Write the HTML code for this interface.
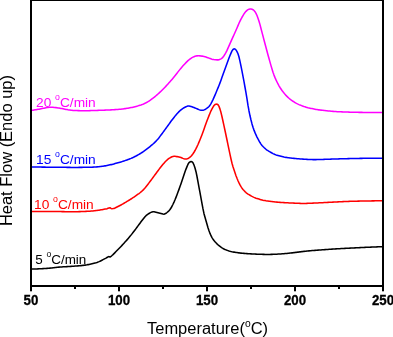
<!DOCTYPE html>
<html><head><meta charset="utf-8"><title>DSC curves</title>
<style>
html,body{margin:0;padding:0;background:#fff;}
body{width:393px;height:337px;overflow:hidden;}
svg{display:block;font-family:"Liberation Sans",Arial,Helvetica,sans-serif;}
</style></head><body>
<svg width="393" height="337" viewBox="0 0 393 337">
<rect x="0" y="0" width="393" height="337" fill="#fff"/>
<path d="M31.0 110.50 L32.0 110.34 L33.0 110.18 L34.0 110.01 L35.0 109.84 L36.0 109.67 L37.0 109.49 L38.0 109.32 L39.0 109.14 L40.0 108.95 L41.0 108.75 L42.0 108.55 L43.0 108.34 L44.0 108.14 L45.0 107.94 L46.0 107.75 L47.0 107.58 L48.0 107.45 L49.0 107.35 L50.0 107.28 L51.0 107.26 L52.0 107.28 L53.0 107.34 L54.0 107.42 L55.0 107.51 L56.0 107.63 L57.0 107.76 L58.0 107.90 L59.0 108.05 L60.0 108.22 L61.0 108.39 L62.0 108.58 L63.0 108.78 L64.0 109.00 L65.0 109.21 L66.0 109.42 L67.0 109.61 L68.0 109.79 L69.0 109.94 L70.0 110.08 L71.0 110.20 L72.0 110.31 L73.0 110.40 L74.0 110.47 L75.0 110.53 L76.0 110.58 L77.0 110.60 L78.0 110.62 L79.0 110.64 L80.0 110.66 L81.0 110.67 L82.0 110.68 L83.0 110.69 L84.0 110.69 L85.0 110.69 L86.0 110.69 L87.0 110.68 L88.0 110.67 L89.0 110.65 L90.0 110.63 L91.0 110.60 L92.0 110.57 L93.0 110.54 L94.0 110.51 L95.0 110.47 L96.0 110.44 L97.0 110.41 L98.0 110.37 L99.0 110.34 L100.0 110.30 L101.0 110.26 L102.0 110.23 L103.0 110.19 L104.0 110.15 L105.0 110.11 L106.0 110.07 L107.0 110.03 L108.0 109.99 L109.0 109.95 L110.0 109.91 L111.0 109.86 L112.0 109.81 L113.0 109.76 L114.0 109.70 L115.0 109.63 L116.0 109.56 L117.0 109.48 L118.0 109.40 L119.0 109.32 L120.0 109.23 L121.0 109.15 L122.0 109.04 L123.0 108.92 L124.0 108.79 L125.0 108.64 L126.0 108.48 L127.0 108.32 L128.0 108.15 L129.0 107.97 L130.0 107.79 L131.0 107.61 L132.0 107.41 L133.0 107.19 L134.0 106.95 L135.0 106.70 L136.0 106.44 L137.0 106.16 L138.0 105.87 L139.0 105.57 L140.0 105.26 L141.0 104.94 L142.0 104.58 L143.0 104.19 L144.0 103.76 L145.0 103.29 L146.0 102.78 L147.0 102.24 L148.0 101.66 L149.0 101.04 L150.0 100.39 L151.0 99.70 L152.0 98.98 L153.0 98.23 L154.0 97.44 L155.0 96.61 L156.0 95.76 L157.0 94.88 L158.0 93.99 L159.0 93.08 L160.0 92.15 L161.0 91.20 L162.0 90.23 L163.0 89.23 L164.0 88.22 L165.0 87.17 L166.0 86.11 L167.0 85.04 L168.0 83.95 L169.0 82.84 L170.0 81.71 L171.0 80.57 L172.0 79.41 L173.0 78.22 L174.0 77.00 L175.0 75.74 L176.0 74.46 L177.0 73.18 L178.0 71.89 L179.0 70.61 L180.0 69.36 L181.0 68.14 L182.0 66.96 L183.0 65.83 L184.0 64.73 L185.0 63.66 L186.0 62.62 L187.0 61.60 L188.0 60.64 L189.0 59.78 L190.0 59.00 L191.0 58.30 L192.0 57.69 L193.0 57.15 L194.0 56.69 L195.0 56.33 L196.0 56.05 L197.0 55.87 L198.0 55.78 L199.0 55.80 L200.0 55.88 L201.0 55.99 L202.0 56.13 L203.0 56.31 L204.0 56.52 L205.0 56.77 L206.0 57.07 L207.0 57.41 L208.0 57.76 L209.0 58.13 L210.0 58.49 L211.0 58.84 L212.0 59.14 L213.0 59.40 L214.0 59.59 L215.0 59.73 L216.0 59.83 L217.0 59.89 L218.0 59.87 L219.0 59.65 L220.0 59.30 L221.0 58.86 L222.0 58.17 L223.0 57.13 L224.0 55.76 L225.0 54.19 L226.0 52.39 L227.0 50.34 L228.0 48.11 L229.0 45.86 L230.0 43.61 L231.0 41.37 L232.0 39.15 L233.0 36.93 L234.0 34.71 L235.0 32.49 L236.0 30.25 L237.0 27.95 L238.0 25.62 L239.0 23.31 L240.0 21.09 L241.0 19.09 L242.0 17.26 L243.0 15.54 L244.0 13.90 L245.0 12.50 L246.0 11.33 L247.0 10.37 L248.0 9.65 L249.0 9.23 L250.0 9.04 L251.0 9.01 L252.0 9.23 L253.0 9.72 L254.0 10.51 L255.0 11.66 L256.0 13.32 L257.0 15.53 L258.0 18.22 L259.0 21.22 L260.0 24.65 L261.0 28.47 L262.0 32.33 L263.0 36.18 L264.0 39.97 L265.0 43.75 L266.0 47.52 L267.0 51.27 L268.0 54.94 L269.0 58.53 L270.0 62.10 L271.0 65.62 L272.0 69.00 L273.0 72.19 L274.0 75.10 L275.0 77.64 L276.0 79.91 L277.0 82.00 L278.0 83.98 L279.0 85.84 L280.0 87.50 L281.0 89.01 L282.0 90.45 L283.0 91.82 L284.0 93.10 L285.0 94.28 L286.0 95.37 L287.0 96.40 L288.0 97.38 L289.0 98.28 L290.0 99.12 L291.0 99.87 L292.0 100.58 L293.0 101.27 L294.0 101.92 L295.0 102.54 L296.0 103.13 L297.0 103.67 L298.0 104.16 L299.0 104.60 L300.0 105.01 L301.0 105.40 L302.0 105.79 L303.0 106.15 L304.0 106.51 L305.0 106.84 L306.0 107.15 L307.0 107.44 L308.0 107.71 L309.0 107.95 L310.0 108.18 L311.0 108.40 L312.0 108.61 L313.0 108.82 L314.0 109.03 L315.0 109.22 L316.0 109.40 L317.0 109.57 L318.0 109.73 L319.0 109.87 L320.0 110.00 L321.0 110.12 L322.0 110.24 L323.0 110.35 L324.0 110.47 L325.0 110.58 L326.0 110.69 L327.0 110.80 L328.0 110.90 L329.0 111.00 L330.0 111.10 L331.0 111.19 L332.0 111.28 L333.0 111.37 L334.0 111.45 L335.0 111.52 L336.0 111.59 L337.0 111.65 L338.0 111.71 L339.0 111.76 L340.0 111.80 L341.0 111.84 L342.0 111.88 L343.0 111.92 L344.0 111.96 L345.0 111.99 L346.0 112.03 L347.0 112.06 L348.0 112.09 L349.0 112.13 L350.0 112.16 L351.0 112.18 L352.0 112.21 L353.0 112.24 L354.0 112.26 L355.0 112.28 L356.0 112.31 L357.0 112.32 L358.0 112.34 L359.0 112.36 L360.0 112.37 L361.0 112.38 L362.0 112.39 L363.0 112.40 L364.0 112.41 L365.0 112.42 L366.0 112.42 L367.0 112.43 L368.0 112.44 L369.0 112.44 L370.0 112.44 L371.0 112.45 L372.0 112.45 L373.0 112.45 L374.0 112.45 L375.0 112.45 L376.0 112.45 L377.0 112.44 L378.0 112.44 L379.0 112.43 L380.0 112.42 L381.0 112.41 L382.0 112.40" fill="none" stroke="#ff00ff" stroke-width="1.55" stroke-linejoin="round" stroke-linecap="butt"/>
<path d="M31.0 167.00 L32.0 167.01 L33.0 167.02 L34.0 167.03 L35.0 167.04 L36.0 167.05 L37.0 167.06 L38.0 167.07 L39.0 167.08 L40.0 167.09 L41.0 167.10 L42.0 167.11 L43.0 167.12 L44.0 167.13 L45.0 167.14 L46.0 167.15 L47.0 167.17 L48.0 167.18 L49.0 167.19 L50.0 167.20 L51.0 167.21 L52.0 167.22 L53.0 167.23 L54.0 167.24 L55.0 167.25 L56.0 167.26 L57.0 167.27 L58.0 167.28 L59.0 167.29 L60.0 167.30 L61.0 167.31 L62.0 167.32 L63.0 167.33 L64.0 167.34 L65.0 167.34 L66.0 167.35 L67.0 167.36 L68.0 167.37 L69.0 167.38 L70.0 167.39 L71.0 167.40 L72.0 167.41 L73.0 167.41 L74.0 167.42 L75.0 167.42 L76.0 167.41 L77.0 167.41 L78.0 167.40 L79.0 167.39 L80.0 167.38 L81.0 167.37 L82.0 167.36 L83.0 167.34 L84.0 167.33 L85.0 167.31 L86.0 167.29 L87.0 167.27 L88.0 167.26 L89.0 167.24 L90.0 167.22 L91.0 167.20 L92.0 167.18 L93.0 167.14 L94.0 167.09 L95.0 167.04 L96.0 166.97 L97.0 166.89 L98.0 166.80 L99.0 166.71 L100.0 166.60 L101.0 166.48 L102.0 166.35 L103.0 166.20 L104.0 166.04 L105.0 165.87 L106.0 165.68 L107.0 165.49 L108.0 165.28 L109.0 165.07 L110.0 164.85 L111.0 164.62 L112.0 164.38 L113.0 164.13 L114.0 163.88 L115.0 163.61 L116.0 163.34 L117.0 163.07 L118.0 162.79 L119.0 162.51 L120.0 162.22 L121.0 161.92 L122.0 161.62 L123.0 161.30 L124.0 160.97 L125.0 160.63 L126.0 160.29 L127.0 159.93 L128.0 159.56 L129.0 159.18 L130.0 158.80 L131.0 158.40 L132.0 157.97 L133.0 157.52 L134.0 157.04 L135.0 156.53 L136.0 156.01 L137.0 155.46 L138.0 154.89 L139.0 154.31 L140.0 153.72 L141.0 153.12 L142.0 152.49 L143.0 151.83 L144.0 151.14 L145.0 150.43 L146.0 149.70 L147.0 148.94 L148.0 148.16 L149.0 147.36 L150.0 146.55 L151.0 145.72 L152.0 144.87 L153.0 144.01 L154.0 143.11 L155.0 142.16 L156.0 141.16 L157.0 140.09 L158.0 138.94 L159.0 137.70 L160.0 136.40 L161.0 135.07 L162.0 133.73 L163.0 132.38 L164.0 131.01 L165.0 129.64 L166.0 128.25 L167.0 126.86 L168.0 125.47 L169.0 124.08 L170.0 122.69 L171.0 121.32 L172.0 119.98 L173.0 118.68 L174.0 117.40 L175.0 116.13 L176.0 114.90 L177.0 113.75 L178.0 112.67 L179.0 111.65 L180.0 110.69 L181.0 109.80 L182.0 109.03 L183.0 108.36 L184.0 107.77 L185.0 107.25 L186.0 106.76 L187.0 106.35 L188.0 106.09 L189.0 106.05 L190.0 106.26 L191.0 106.53 L192.0 106.84 L193.0 107.18 L194.0 107.55 L195.0 107.93 L196.0 108.35 L197.0 108.78 L198.0 109.20 L199.0 109.61 L200.0 109.96 L201.0 110.15 L202.0 110.21 L203.0 110.16 L204.0 109.91 L205.0 109.47 L206.0 108.89 L207.0 108.22 L208.0 107.44 L209.0 106.45 L210.0 105.19 L211.0 103.58 L212.0 101.70 L213.0 99.61 L214.0 97.36 L215.0 95.07 L216.0 92.72 L217.0 90.32 L218.0 87.91 L219.0 85.44 L220.0 82.87 L221.0 80.16 L222.0 77.36 L223.0 74.53 L224.0 71.71 L225.0 68.95 L226.0 66.21 L227.0 63.48 L228.0 60.76 L229.0 58.06 L230.0 55.52 L231.0 53.11 L232.0 50.86 L233.0 49.47 L234.0 48.86 L235.0 48.96 L236.0 49.97 L237.0 51.61 L238.0 53.77 L239.0 56.99 L240.0 61.31 L241.0 66.05 L242.0 71.16 L243.0 76.38 L244.0 81.71 L245.0 87.25 L246.0 92.99 L247.0 98.97 L248.0 105.40 L249.0 110.98 L250.0 115.79 L251.0 120.05 L252.0 123.91 L253.0 127.29 L254.0 130.12 L255.0 132.63 L256.0 134.95 L257.0 137.07 L258.0 138.98 L259.0 140.79 L260.0 142.52 L261.0 144.09 L262.0 145.44 L263.0 146.53 L264.0 147.53 L265.0 148.44 L266.0 149.27 L267.0 150.02 L268.0 150.69 L269.0 151.30 L270.0 151.89 L271.0 152.47 L272.0 153.04 L273.0 153.57 L274.0 154.07 L275.0 154.51 L276.0 154.90 L277.0 155.22 L278.0 155.53 L279.0 155.82 L280.0 156.10 L281.0 156.36 L282.0 156.60 L283.0 156.83 L284.0 157.04 L285.0 157.22 L286.0 157.39 L287.0 157.53 L288.0 157.66 L289.0 157.78 L290.0 157.91 L291.0 158.03 L292.0 158.15 L293.0 158.27 L294.0 158.38 L295.0 158.48 L296.0 158.59 L297.0 158.68 L298.0 158.77 L299.0 158.85 L300.0 158.93 L301.0 158.99 L302.0 159.06 L303.0 159.12 L304.0 159.18 L305.0 159.25 L306.0 159.31 L307.0 159.37 L308.0 159.42 L309.0 159.47 L310.0 159.52 L311.0 159.56 L312.0 159.59 L313.0 159.61 L314.0 159.62 L315.0 159.62 L316.0 159.61 L317.0 159.59 L318.0 159.57 L319.0 159.54 L320.0 159.51 L321.0 159.48 L322.0 159.45 L323.0 159.41 L324.0 159.38 L325.0 159.34 L326.0 159.30 L327.0 159.27 L328.0 159.23 L329.0 159.19 L330.0 159.16 L331.0 159.12 L332.0 159.08 L333.0 159.05 L334.0 159.02 L335.0 158.99 L336.0 158.95 L337.0 158.93 L338.0 158.90 L339.0 158.87 L340.0 158.85 L341.0 158.82 L342.0 158.80 L343.0 158.77 L344.0 158.75 L345.0 158.72 L346.0 158.69 L347.0 158.67 L348.0 158.64 L349.0 158.62 L350.0 158.60 L351.0 158.57 L352.0 158.55 L353.0 158.53 L354.0 158.51 L355.0 158.48 L356.0 158.46 L357.0 158.44 L358.0 158.42 L359.0 158.41 L360.0 158.39 L361.0 158.37 L362.0 158.36 L363.0 158.35 L364.0 158.34 L365.0 158.33 L366.0 158.32 L367.0 158.31 L368.0 158.30 L369.0 158.30 L370.0 158.29 L371.0 158.29 L372.0 158.28 L373.0 158.28 L374.0 158.28 L375.0 158.28 L376.0 158.28 L377.0 158.28 L378.0 158.28 L379.0 158.29 L380.0 158.29 L381.0 158.30 L382.0 158.30" fill="none" stroke="#0000ff" stroke-width="1.55" stroke-linejoin="round" stroke-linecap="butt"/>
<path d="M31.0 211.50 L32.0 211.50 L33.0 211.49 L34.0 211.49 L35.0 211.49 L36.0 211.48 L37.0 211.48 L38.0 211.48 L39.0 211.48 L40.0 211.48 L41.0 211.48 L42.0 211.48 L43.0 211.49 L44.0 211.49 L45.0 211.49 L46.0 211.49 L47.0 211.49 L48.0 211.50 L49.0 211.50 L50.0 211.50 L51.0 211.50 L52.0 211.51 L53.0 211.51 L54.0 211.52 L55.0 211.53 L56.0 211.54 L57.0 211.55 L58.0 211.56 L59.0 211.57 L60.0 211.58 L61.0 211.60 L62.0 211.61 L63.0 211.62 L64.0 211.63 L65.0 211.65 L66.0 211.66 L67.0 211.67 L68.0 211.68 L69.0 211.69 L70.0 211.70 L71.0 211.70 L72.0 211.71 L73.0 211.71 L74.0 211.70 L75.0 211.69 L76.0 211.68 L77.0 211.67 L78.0 211.65 L79.0 211.63 L80.0 211.61 L81.0 211.58 L82.0 211.55 L83.0 211.51 L84.0 211.48 L85.0 211.43 L86.0 211.39 L87.0 211.34 L88.0 211.28 L89.0 211.23 L90.0 211.17 L91.0 211.10 L92.0 211.02 L93.0 210.93 L94.0 210.82 L95.0 210.70 L96.0 210.57 L97.0 210.43 L98.0 210.29 L99.0 210.15 L100.0 210.00 L101.0 209.84 L102.0 209.67 L103.0 209.49 L104.0 209.30 L105.0 209.11 L106.0 208.92 L107.0 208.66 L108.0 208.30 L109.0 207.94 L110.0 207.70 L111.0 208.45 L112.0 208.69 L113.0 208.60 L114.0 208.40 L115.0 208.04 L116.0 207.55 L117.0 207.05 L118.0 206.55 L119.0 206.04 L120.0 205.52 L121.0 204.98 L122.0 204.42 L123.0 203.84 L124.0 203.25 L125.0 202.65 L126.0 202.05 L127.0 201.45 L128.0 200.84 L129.0 200.23 L130.0 199.61 L131.0 198.99 L132.0 198.35 L133.0 197.70 L134.0 197.03 L135.0 196.35 L136.0 195.66 L137.0 194.95 L138.0 194.24 L139.0 193.52 L140.0 192.75 L141.0 191.94 L142.0 191.06 L143.0 190.11 L144.0 189.09 L145.0 187.97 L146.0 186.75 L147.0 185.48 L148.0 184.19 L149.0 182.88 L150.0 181.55 L151.0 180.22 L152.0 178.87 L153.0 177.52 L154.0 176.16 L155.0 174.79 L156.0 173.42 L157.0 172.06 L158.0 170.70 L159.0 169.37 L160.0 168.07 L161.0 166.81 L162.0 165.57 L163.0 164.36 L164.0 163.17 L165.0 162.02 L166.0 160.97 L167.0 160.04 L168.0 159.21 L169.0 158.47 L170.0 157.81 L171.0 157.22 L172.0 156.75 L173.0 156.44 L174.0 156.29 L175.0 156.33 L176.0 156.45 L177.0 156.61 L178.0 156.81 L179.0 157.03 L180.0 157.28 L181.0 157.60 L182.0 157.97 L183.0 158.36 L184.0 158.72 L185.0 159.00 L186.0 159.08 L187.0 158.89 L188.0 158.48 L189.0 157.88 L190.0 157.14 L191.0 156.23 L192.0 155.11 L193.0 153.78 L194.0 152.24 L195.0 150.51 L196.0 148.66 L197.0 146.67 L198.0 144.49 L199.0 142.15 L200.0 139.75 L201.0 137.26 L202.0 134.67 L203.0 131.96 L204.0 129.15 L205.0 126.30 L206.0 123.50 L207.0 120.79 L208.0 118.18 L209.0 115.65 L210.0 113.18 L211.0 110.81 L212.0 108.80 L213.0 107.06 L214.0 105.53 L215.0 104.59 L216.0 104.18 L217.0 104.13 L218.0 104.74 L219.0 106.37 L220.0 109.11 L221.0 112.56 L222.0 116.75 L223.0 121.26 L224.0 125.82 L225.0 130.50 L226.0 135.27 L227.0 140.03 L228.0 144.80 L229.0 149.56 L230.0 154.31 L231.0 159.03 L232.0 163.29 L233.0 166.72 L234.0 169.79 L235.0 172.81 L236.0 175.66 L237.0 178.32 L238.0 180.73 L239.0 182.93 L240.0 184.93 L241.0 186.69 L242.0 188.19 L243.0 189.42 L244.0 190.55 L245.0 191.60 L246.0 192.54 L247.0 193.37 L248.0 194.09 L249.0 194.69 L250.0 195.28 L251.0 195.85 L252.0 196.40 L253.0 196.92 L254.0 197.40 L255.0 197.83 L256.0 198.21 L257.0 198.52 L258.0 198.82 L259.0 199.11 L260.0 199.40 L261.0 199.67 L262.0 199.93 L263.0 200.18 L264.0 200.40 L265.0 200.60 L266.0 200.78 L267.0 200.93 L268.0 201.07 L269.0 201.20 L270.0 201.34 L271.0 201.47 L272.0 201.60 L273.0 201.72 L274.0 201.84 L275.0 201.95 L276.0 202.05 L277.0 202.14 L278.0 202.23 L279.0 202.30 L280.0 202.37 L281.0 202.43 L282.0 202.50 L283.0 202.56 L284.0 202.62 L285.0 202.68 L286.0 202.74 L287.0 202.79 L288.0 202.85 L289.0 202.90 L290.0 202.95 L291.0 202.99 L292.0 203.04 L293.0 203.08 L294.0 203.13 L295.0 203.18 L296.0 203.23 L297.0 203.27 L298.0 203.31 L299.0 203.35 L300.0 203.38 L301.0 203.41 L302.0 203.43 L303.0 203.43 L304.0 203.43 L305.0 203.42 L306.0 203.40 L307.0 203.37 L308.0 203.34 L309.0 203.30 L310.0 203.26 L311.0 203.22 L312.0 203.18 L313.0 203.14 L314.0 203.09 L315.0 203.04 L316.0 203.00 L317.0 202.95 L318.0 202.90 L319.0 202.85 L320.0 202.80 L321.0 202.75 L322.0 202.70 L323.0 202.65 L324.0 202.60 L325.0 202.55 L326.0 202.49 L327.0 202.44 L328.0 202.39 L329.0 202.33 L330.0 202.28 L331.0 202.23 L332.0 202.17 L333.0 202.12 L334.0 202.07 L335.0 202.01 L336.0 201.96 L337.0 201.91 L338.0 201.86 L339.0 201.81 L340.0 201.76 L341.0 201.71 L342.0 201.66 L343.0 201.62 L344.0 201.57 L345.0 201.53 L346.0 201.49 L347.0 201.45 L348.0 201.42 L349.0 201.38 L350.0 201.35 L351.0 201.32 L352.0 201.29 L353.0 201.26 L354.0 201.23 L355.0 201.21 L356.0 201.18 L357.0 201.16 L358.0 201.14 L359.0 201.11 L360.0 201.09 L361.0 201.07 L362.0 201.05 L363.0 201.03 L364.0 201.01 L365.0 201.00 L366.0 200.98 L367.0 200.96 L368.0 200.94 L369.0 200.93 L370.0 200.91 L371.0 200.90 L372.0 200.89 L373.0 200.87 L374.0 200.86 L375.0 200.85 L376.0 200.84 L377.0 200.83 L378.0 200.82 L379.0 200.82 L380.0 200.81 L381.0 200.80 L382.0 200.80" fill="none" stroke="#ff0000" stroke-width="1.55" stroke-linejoin="round" stroke-linecap="butt"/>
<path d="M31.0 269.10 L32.0 269.08 L33.0 269.05 L34.0 269.02 L35.0 268.99 L36.0 268.95 L37.0 268.91 L38.0 268.87 L39.0 268.83 L40.0 268.78 L41.0 268.73 L42.0 268.67 L43.0 268.62 L44.0 268.56 L45.0 268.50 L46.0 268.43 L47.0 268.36 L48.0 268.29 L49.0 268.21 L50.0 268.13 L51.0 268.05 L52.0 267.95 L53.0 267.84 L54.0 267.72 L55.0 267.59 L56.0 267.47 L57.0 267.34 L58.0 267.23 L59.0 267.13 L60.0 267.04 L61.0 266.97 L62.0 266.90 L63.0 266.84 L64.0 266.78 L65.0 266.73 L66.0 266.67 L67.0 266.62 L68.0 266.57 L69.0 266.51 L70.0 266.45 L71.0 266.38 L72.0 266.31 L73.0 266.24 L74.0 266.17 L75.0 266.10 L76.0 266.02 L77.0 265.94 L78.0 265.86 L79.0 265.78 L80.0 265.70 L81.0 265.61 L82.0 265.50 L83.0 265.38 L84.0 265.25 L85.0 265.11 L86.0 264.96 L87.0 264.81 L88.0 264.63 L89.0 264.43 L90.0 264.22 L91.0 264.00 L92.0 263.77 L93.0 263.53 L94.0 263.28 L95.0 263.01 L96.0 262.72 L97.0 262.40 L98.0 262.04 L99.0 261.64 L100.0 261.20 L101.0 260.71 L102.0 260.20 L103.0 259.68 L104.0 259.14 L105.0 258.61 L106.0 258.07 L107.0 257.47 L108.0 256.88 L109.0 256.59 L110.0 257.01 L111.0 256.35 L112.0 255.49 L113.0 254.58 L114.0 253.61 L115.0 252.60 L116.0 251.58 L117.0 250.55 L118.0 249.53 L119.0 248.50 L120.0 247.46 L121.0 246.41 L122.0 245.35 L123.0 244.27 L124.0 243.19 L125.0 242.09 L126.0 240.98 L127.0 239.86 L128.0 238.71 L129.0 237.54 L130.0 236.34 L131.0 235.12 L132.0 233.87 L133.0 232.58 L134.0 231.27 L135.0 229.94 L136.0 228.59 L137.0 227.23 L138.0 225.87 L139.0 224.51 L140.0 223.17 L141.0 221.83 L142.0 220.52 L143.0 219.22 L144.0 217.94 L145.0 216.70 L146.0 215.68 L147.0 214.84 L148.0 214.14 L149.0 213.52 L150.0 212.93 L151.0 212.38 L152.0 211.96 L153.0 211.73 L154.0 211.76 L155.0 212.00 L156.0 212.25 L157.0 212.51 L158.0 212.77 L159.0 213.02 L160.0 213.27 L161.0 213.52 L162.0 213.77 L163.0 214.01 L164.0 214.15 L165.0 213.87 L166.0 213.28 L167.0 212.51 L168.0 211.68 L169.0 210.71 L170.0 209.52 L171.0 208.04 L172.0 206.25 L173.0 204.26 L174.0 202.12 L175.0 199.81 L176.0 197.35 L177.0 194.74 L178.0 192.08 L179.0 189.36 L180.0 186.59 L181.0 183.73 L182.0 180.78 L183.0 177.77 L184.0 174.77 L185.0 171.82 L186.0 169.09 L187.0 166.59 L188.0 164.26 L189.0 162.70 L190.0 161.93 L191.0 161.58 L192.0 161.77 L193.0 162.84 L194.0 164.96 L195.0 167.93 L196.0 171.70 L197.0 176.50 L198.0 181.89 L199.0 187.29 L200.0 192.70 L201.0 198.13 L202.0 203.56 L203.0 208.96 L204.0 213.68 L205.0 217.32 L206.0 220.76 L207.0 224.29 L208.0 227.66 L209.0 230.75 L210.0 233.43 L211.0 235.70 L212.0 237.60 L213.0 239.16 L214.0 240.46 L215.0 241.69 L216.0 242.83 L217.0 243.87 L218.0 244.79 L219.0 245.59 L220.0 246.37 L221.0 247.13 L222.0 247.83 L223.0 248.47 L224.0 249.02 L225.0 249.47 L226.0 249.88 L227.0 250.28 L228.0 250.64 L229.0 250.98 L230.0 251.28 L231.0 251.55 L232.0 251.77 L233.0 251.95 L234.0 252.12 L235.0 252.28 L236.0 252.44 L237.0 252.60 L238.0 252.74 L239.0 252.88 L240.0 253.01 L241.0 253.12 L242.0 253.22 L243.0 253.31 L244.0 253.39 L245.0 253.46 L246.0 253.54 L247.0 253.61 L248.0 253.69 L249.0 253.75 L250.0 253.82 L251.0 253.88 L252.0 253.94 L253.0 254.00 L254.0 254.05 L255.0 254.10 L256.0 254.14 L257.0 254.18 L258.0 254.22 L259.0 254.26 L260.0 254.29 L261.0 254.32 L262.0 254.35 L263.0 254.37 L264.0 254.39 L265.0 254.41 L266.0 254.41 L267.0 254.42 L268.0 254.42 L269.0 254.41 L270.0 254.40 L271.0 254.38 L272.0 254.36 L273.0 254.33 L274.0 254.29 L275.0 254.25 L276.0 254.20 L277.0 254.15 L278.0 254.10 L279.0 254.03 L280.0 253.97 L281.0 253.90 L282.0 253.83 L283.0 253.75 L284.0 253.67 L285.0 253.58 L286.0 253.49 L287.0 253.40 L288.0 253.30 L289.0 253.20 L290.0 253.09 L291.0 252.98 L292.0 252.87 L293.0 252.75 L294.0 252.63 L295.0 252.51 L296.0 252.38 L297.0 252.25 L298.0 252.13 L299.0 252.00 L300.0 251.88 L301.0 251.75 L302.0 251.63 L303.0 251.51 L304.0 251.39 L305.0 251.27 L306.0 251.16 L307.0 251.06 L308.0 250.95 L309.0 250.86 L310.0 250.77 L311.0 250.68 L312.0 250.60 L313.0 250.52 L314.0 250.44 L315.0 250.36 L316.0 250.29 L317.0 250.21 L318.0 250.13 L319.0 250.06 L320.0 249.98 L321.0 249.91 L322.0 249.83 L323.0 249.76 L324.0 249.69 L325.0 249.62 L326.0 249.55 L327.0 249.48 L328.0 249.41 L329.0 249.34 L330.0 249.27 L331.0 249.21 L332.0 249.14 L333.0 249.08 L334.0 249.02 L335.0 248.95 L336.0 248.89 L337.0 248.83 L338.0 248.77 L339.0 248.71 L340.0 248.65 L341.0 248.60 L342.0 248.54 L343.0 248.49 L344.0 248.43 L345.0 248.38 L346.0 248.33 L347.0 248.27 L348.0 248.22 L349.0 248.17 L350.0 248.12 L351.0 248.07 L352.0 248.01 L353.0 247.96 L354.0 247.91 L355.0 247.86 L356.0 247.81 L357.0 247.76 L358.0 247.71 L359.0 247.67 L360.0 247.62 L361.0 247.57 L362.0 247.52 L363.0 247.48 L364.0 247.43 L365.0 247.38 L366.0 247.34 L367.0 247.29 L368.0 247.25 L369.0 247.21 L370.0 247.16 L371.0 247.12 L372.0 247.08 L373.0 247.04 L374.0 247.00 L375.0 246.96 L376.0 246.92 L377.0 246.88 L378.0 246.84 L379.0 246.81 L380.0 246.77 L381.0 246.73 L382.0 246.70" fill="none" stroke="#000000" stroke-width="1.55" stroke-linejoin="round" stroke-linecap="butt"/>
<rect x="31" y="0" width="352" height="286" fill="none" stroke="#000" stroke-width="2"/>
<rect x="30.0" y="286" width="2" height="5.3" fill="#000"/>
<text transform="translate(31.0,305.3) scale(0.95,1)" text-anchor="middle" font-size="14" stroke="#000" stroke-width="0.3" font-weight="bold">50</text>
<rect x="118.0" y="286" width="2" height="5.3" fill="#000"/>
<text transform="translate(119.0,305.3) scale(0.95,1)" text-anchor="middle" font-size="14" stroke="#000" stroke-width="0.3" font-weight="bold">100</text>
<rect x="206.0" y="286" width="2" height="5.3" fill="#000"/>
<text transform="translate(207.0,305.3) scale(0.95,1)" text-anchor="middle" font-size="14" stroke="#000" stroke-width="0.3" font-weight="bold">150</text>
<rect x="294.0" y="286" width="2" height="5.3" fill="#000"/>
<text transform="translate(295.0,305.3) scale(0.95,1)" text-anchor="middle" font-size="14" stroke="#000" stroke-width="0.3" font-weight="bold">200</text>
<rect x="382.0" y="286" width="2" height="5.3" fill="#000"/>
<text transform="translate(383.0,305.3) scale(0.95,1)" text-anchor="middle" font-size="14" stroke="#000" stroke-width="0.3" font-weight="bold">250</text>
<rect x="74.0" y="286" width="2" height="3" fill="#000"/>
<rect x="162.0" y="286" width="2" height="3" fill="#000"/>
<rect x="250.0" y="286" width="2" height="3" fill="#000"/>
<rect x="338.0" y="286" width="2" height="3" fill="#000"/>

<text transform="translate(36,106.8) scale(1.03,1)" fill="#ff00ff" font-size="13.33">20 <tspan font-size="8.5" dy="-7">o</tspan><tspan dy="7">C/min</tspan></text>
<text transform="translate(36,164.1) scale(1.03,1)" fill="#0000ff" font-size="13.33">15 <tspan font-size="8.5" dy="-7">o</tspan><tspan dy="7">C/min</tspan></text>
<text transform="translate(34,209.0) scale(1.03,1)" fill="#ff0000" font-size="13.33">10 <tspan font-size="8.5" dy="-7">o</tspan><tspan dy="7">C/min</tspan></text>
<text transform="translate(35.2,263.8) scale(1.01,1)" fill="#000" font-size="13.33">5 <tspan font-size="8.5" dy="-7">o</tspan><tspan dy="7">C/min</tspan></text>

<text transform="translate(147,334) scale(1.03,1)" font-size="16" fill="#000">Temperature(<tspan font-size="10" dy="-7.2">o</tspan><tspan dy="7.2">C)</tspan></text>
<text transform="translate(11.7,226.1) rotate(-90) scale(1.03,1)" font-size="16" fill="#000">Heat Flow (Endo up)</text>
</svg>
</body></html>
